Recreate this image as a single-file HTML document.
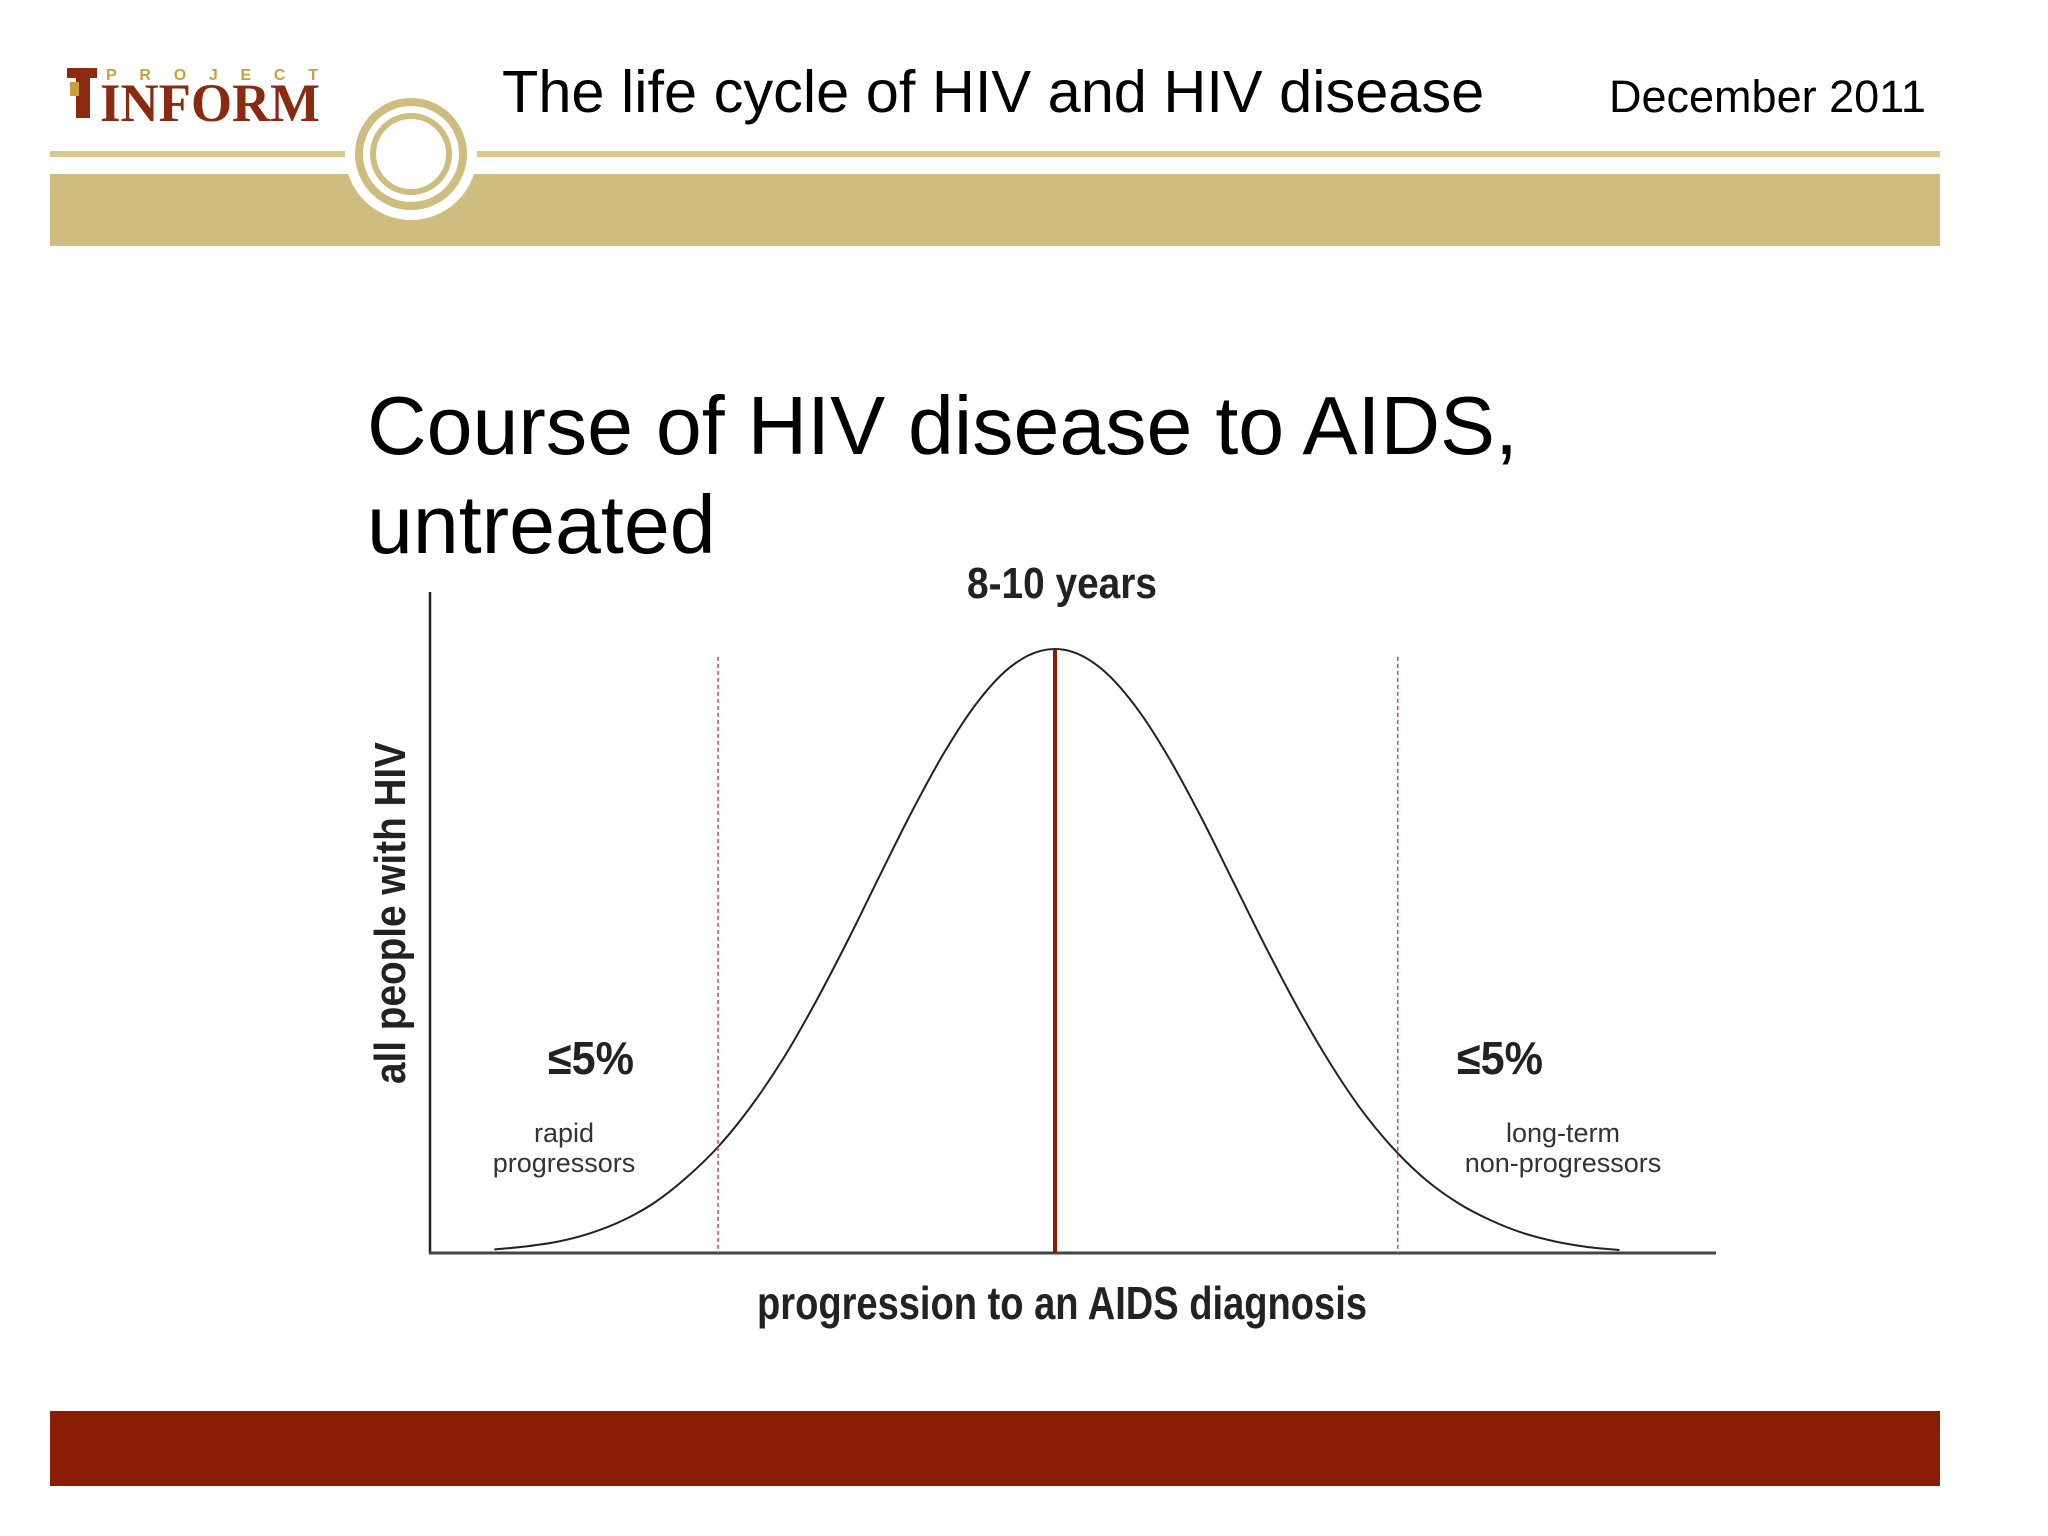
<!DOCTYPE html>
<html><head><meta charset="utf-8">
<style>
html,body{margin:0;padding:0;background:#fff;}
body{width:2048px;height:1536px;position:relative;overflow:hidden;font-family:"Liberation Sans",sans-serif;}
.t{position:absolute;white-space:nowrap;color:#000;}
</style></head>
<body>
<svg width="2048" height="1536" style="position:absolute;left:0;top:0">
  <g>
    <rect x="50" y="151" width="1890" height="6" fill="#d9c88f"/>
    <rect x="50" y="174" width="1890" height="72" fill="#cfbd80"/>
    <circle cx="411" cy="154" r="66" fill="#fff"/>
    <circle cx="411" cy="154" r="52" fill="none" stroke="#cfbd80" stroke-width="8"/>
    <circle cx="411" cy="154" r="38" fill="none" stroke="#cfbd80" stroke-width="6"/>
  </g>
  <g>
    <rect x="67" y="68" width="30" height="10" fill="#8b2a10"/>
    <rect x="76" y="76" width="14" height="42" fill="#8b2a10"/>
    <rect x="70" y="82" width="9" height="14" fill="#c9a13a"/>
    <text x="106" y="80" font-family="Liberation Sans" font-weight="bold" font-size="16" fill="#c9a13a" textLength="212" lengthAdjust="spacing">PROJECT</text>
    <text x="100" y="121" font-family="Liberation Serif" font-weight="bold" font-size="54" fill="#8b2a10" textLength="220" lengthAdjust="spacingAndGlyphs">INFORM</text>
  </g>
  <rect x="50" y="1411" width="1890" height="75" fill="#8b1c05"/>
  <g id="chart"></g>
</svg>

<div class="t" style="left:502px;top:57px;font-size:59.5px;">The life cycle of HIV and HIV disease</div>
<div class="t" style="left:1609px;top:71px;font-size:45px;">December 2011</div>
<div class="t" style="left:367px;top:377px;font-size:82.5px;line-height:99px;">Course of HIV disease to AIDS,<br>untreated</div>

<script>
const yearsX = [1,1.5,2,2.5,3,3.5,4,4.5,5,5.5,6,6.5,7,7.5,8,8.5,9,9.5,10,10.5,11,11.5,12,12.5,13,13.5,14,14.5,15,15.5,16,16.5,17,17.5,18,18.5];
const shareY = [0.006,0.011,0.019,0.033,0.054,0.084,0.126,0.178,0.244,0.323,0.416,0.518,0.626,0.732,0.829,0.910,0.968,0.997,0.995,0.962,0.901,0.818,0.720,0.613,0.506,0.405,0.314,0.235,0.171,0.120,0.082,0.054,0.033,0.019,0.010,0.005];
const medianYear = 9.72;
const rapidCut = 4.48;
const ltnpCut = 15.05;
const dashTop = 0.987;

const X0=430, X1=1716, Y0=1253, Y1=649;
const xDomain=[0,20];
function sx(v){return X0+(v-xDomain[0])/(xDomain[1]-xDomain[0])*(X1-X0);}
function sy(v){return Y0-v*(Y0-Y1);}
const NS='http://www.w3.org/2000/svg';
const g=document.getElementById('chart');
function mk(tag,attrs){const e=document.createElementNS(NS,tag);for(const k in attrs)e.setAttribute(k,attrs[k]);g.appendChild(e);return e;}

const ya=mk('line',{x1:X0,y1:592,x2:X0,y2:Y0+1,stroke:'#222','stroke-width':2.5});


const xa=mk('line',{x1:X0-1,y1:Y0,x2:X1,y2:Y0,stroke:'#444','stroke-width':3});



const pts=yearsX.map((t,i)=>[sx(t),sy(shareY[i])]);
let d='M'+pts[0][0]+','+pts[0][1];
for(let i=0;i<pts.length-1;i++){
  const p0=pts[Math.max(0,i-1)],p1=pts[i],p2=pts[i+1],p3=pts[Math.min(pts.length-1,i+2)];
  const c1=[p1[0]+(p2[0]-p0[0])/6,p1[1]+(p2[1]-p0[1])/6];
  const c2=[p2[0]-(p3[0]-p1[0])/6,p2[1]-(p3[1]-p1[1])/6];
  d+=' C'+c1[0]+','+c1[1]+' '+c2[0]+','+c2[1]+' '+p2[0]+','+p2[1];
}
const curve=mk('path',{d:d,fill:'none',stroke:'#222','stroke-width':2});



const r=mk('line',{x1:sx(rapidCut),y1:sy(dashTop),x2:sx(rapidCut),y2:Y0,stroke:'#c0504d','stroke-width':1.5,'stroke-dasharray':'4,3'});


const l=mk('line',{x1:sx(ltnpCut),y1:sy(dashTop),x2:sx(ltnpCut),y2:Y0,stroke:'#c0504d','stroke-width':1.5,'stroke-dasharray':'4,3'});


const m=mk('line',{x1:sx(medianYear),y1:sy(1),x2:sx(medianYear),y2:Y0,stroke:'#8b1c05','stroke-width':4});



function txt(name,x,y,s,size,weight,extra){
  const e=mk('text',Object.assign({x:x,y:y,'font-size':size,'font-weight':weight,'text-anchor':'middle','font-family':'Liberation Sans, sans-serif',fill:'#222'},extra||{}));
  e.textContent=s;
  
  
  return e;
}
txt('median-label',sx(medianYear)+7,598,'8-10 years',44,'bold',{textLength:190,lengthAdjust:'spacingAndGlyphs'});
txt('rapid-percent',591,1074,'≤5%',46,'bold',{textLength:86,lengthAdjust:'spacingAndGlyphs'});
txt('ltnp-percent',1500,1074,'≤5%',46,'bold',{textLength:86,lengthAdjust:'spacingAndGlyphs'});
txt('rapid-label-1',564,1142,'rapid',27,'normal',{fill:'#333'});
txt('rapid-label-2',564,1172,'progressors',27,'normal',{fill:'#333'});
txt('ltnp-label-1',1563,1142,'long-term',27,'normal',{fill:'#333'});
txt('ltnp-label-2',1563,1172,'non-progressors',27,'normal',{fill:'#333'});
txt('x-axis-title',1062,1319,'progression to an AIDS diagnosis',46,'bold',{textLength:610,lengthAdjust:'spacingAndGlyphs'});
txt('y-axis-title',0,0,'all people with HIV',44,'bold',{textLength:342,lengthAdjust:'spacingAndGlyphs',transform:'translate(405,913) rotate(-90)'});
</script>
</body></html>
